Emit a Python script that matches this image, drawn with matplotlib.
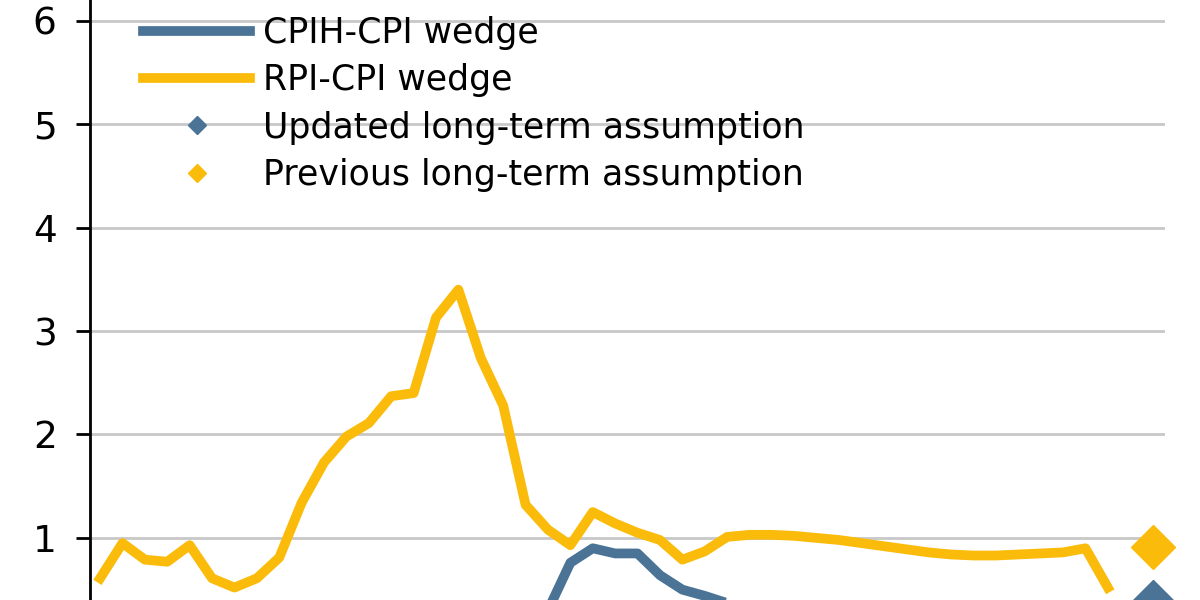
import matplotlib
matplotlib.use("Agg")
import matplotlib.pyplot as plt
import numpy as np
from matplotlib.lines import Line2D

rpi = [0.61,0.95,0.79,0.77,0.93,0.61,0.52,0.61,0.81,1.34,1.73,1.98,2.11,2.37,2.40,3.13,3.40,2.74,2.28,1.32,
       1.08,0.93,1.25,1.14,1.05,0.98,0.79,0.87,1.01,1.03,1.03,1.02,1.00,0.98,0.95,0.92,0.89,0.86,0.84,0.83,
       0.83,0.84,0.85,0.86,0.90,0.52]
cpih_start = 18
cpih = [-0.2,0.05,0.30,0.76,0.90,0.85,0.85,0.64,0.50,0.44,0.37,0.32,0.30,0.30]
upd_x, upd_y = 47, 0.38
prev_x, prev_y = 47, 0.91

blue = "#4a7396"
yellow = "#fbbb0a"

fig = plt.figure(figsize=(12, 6), dpi=100)
ax = fig.add_axes([0.075, 0.0, 0.8958, 1.0])
ax.plot(np.arange(len(rpi)), rpi, color=yellow, lw=7)
ax.plot(np.arange(cpih_start, cpih_start + len(cpih)), cpih, color=blue, lw=7)
ax.plot([upd_x], [upd_y], "D", color=blue, ms=22, ls="none", clip_on=False)
ax.plot([prev_x], [prev_y], "D", color=yellow, ms=22, ls="none", clip_on=False)

ax.set_xlim(-0.45, 47.55)
ax.set_ylim(0.40, 6.2)
ax.set_yticks([1, 2, 3, 4, 5, 6])
ax.tick_params(axis="y", labelsize=27, length=10, width=2, direction="out", pad=14)
ax.set_xticks([])
for s in ["top", "right", "bottom"]:
    ax.spines[s].set_visible(False)
ax.spines["left"].set_linewidth(2)
ax.yaxis.grid(True, color="#c8c8c8", lw=2)
ax.set_axisbelow(True)

hs = [Line2D([], [], color=blue, lw=7), Line2D([], [], color=yellow, lw=7),
      Line2D([], [], marker="D", color=blue, ls="none", ms=9),
      Line2D([], [], marker="D", color=yellow, ls="none", ms=9)]
ls = ["CPIH-CPI wedge", "RPI-CPI wedge", "Updated long-term assumption", "Previous long-term assumption"]
ax.legend(hs, ls, loc="upper left", bbox_to_anchor=(0.02, 1.025), frameon=False, fontsize=25,
          handlelength=3.1, labelspacing=0.38, handletextpad=0.35)

fig.savefig("out.png")
